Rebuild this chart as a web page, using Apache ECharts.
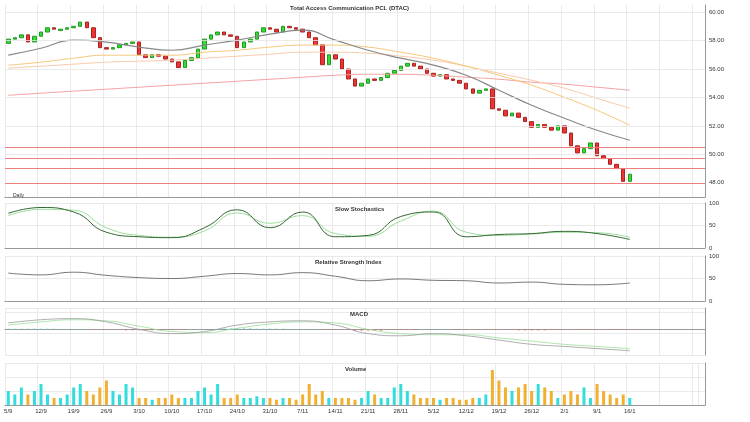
<!DOCTYPE html><html><head><meta charset="utf-8"><script src="https://cdn.jsdelivr.net/npm/echarts@6/dist/echarts.min.js"></script>
<style>body{margin:0;background:#fff}#c{width:750px;height:422px}</style></head><body><div id="c"></div><script>
const closes=[58.1,58.2,58.4,57.9,58.3,58.6,58.9,58.8,58.8,58.9,59.0,59.3,58.9,58.2,57.5,57.4,57.5,57.7,57.8,57.9,57.0,56.8,57.0,56.9,56.7,56.5,56.1,56.6,56.8,57.4,58.1,58.4,58.6,58.4,58.3,57.5,57.9,58.1,58.6,58.9,58.8,58.6,59.0,58.9,58.8,58.6,58.2,57.7,56.3,57.0,56.7,56.0,55.3,54.8,55.0,55.3,55.2,55.4,55.7,55.9,56.2,56.4,56.2,56.0,55.7,55.5,55.6,55.3,55.2,55.0,54.6,54.3,54.5,54.6,53.2,53.1,52.7,52.9,52.6,52.3,51.9,52.1,51.9,51.7,52.0,51.5,50.6,50.1,50.4,50.8,49.9,49.7,49.3,49.0,48.1,48.6];
const opens=[57.8,58.1,58.2,58.4,57.9,58.3,58.6,58.9,58.7,58.8,58.9,59.0,59.3,58.9,58.2,57.5,57.4,57.5,57.7,57.8,57.9,57.0,56.8,57.0,56.9,56.7,56.5,56.1,56.6,56.8,57.4,58.1,58.4,58.6,58.4,58.3,57.5,57.9,58.1,58.6,58.9,58.8,58.6,59.0,58.9,58.8,58.6,58.2,57.7,56.3,57.0,56.7,56.0,55.3,54.8,55.0,55.3,55.2,55.4,55.7,55.9,56.2,56.4,56.2,56.0,55.7,55.5,55.6,55.3,55.2,55.0,54.6,54.3,54.5,54.6,53.2,53.1,52.7,52.9,52.6,52.3,51.9,52.1,51.9,51.7,52.0,51.5,50.6,50.1,50.4,50.8,49.9,49.7,49.3,49.0,48.1];
const volumes=[4,3,5,3,4,6,3,2,2,3,5,6,4,3,5,7,4,3,6,5,2,2,1.5,2,2,3,2,2,2,4,5,3,6,2,2,3,2,2,2.5,2,2,1.5,2,2,1.5,3,6,3,4,2,2,2,2,1.5,2,4,3,2,2,5,6,4,3,2,2,2,1.5,2,2,1.5,1.5,2,2,3,10,7,5,4,5,6,4,6,5,4,2,3,4,3,5,2,6,4,3,2,3,2];
const maIdx=[0,5,10,15,20,25,30,35,40,45,50,55,60,65,70,75,80,85,90,95];
const maGray=[56.97,57.46,58.03,57.89,57.54,57.32,57.68,58.03,58.45,58.73,58.03,57.32,56.76,56.27,55.56,54.51,53.45,52.54,51.69,50.99];
const maOrange1=[56.27,56.48,56.76,56.97,56.97,56.97,57.18,57.32,57.54,57.68,57.68,57.54,57.18,56.76,56.20,55.56,54.86,54.01,53.10,52.04];
const maOrange2=[56.06,56.20,56.34,56.48,56.55,56.62,56.76,56.90,57.04,57.18,57.18,57.11,56.90,56.62,56.20,55.70,55.21,54.65,53.94,53.24];
const maRed=[54.15,54.30,54.44,54.58,54.72,54.86,55.0,55.14,55.28,55.42,55.56,55.63,55.63,55.56,55.42,55.28,55.07,54.93,54.72,54.51];
const levels=[50.5,49.7,49.0,48.0];
const priceTicks=[48,50,52,54,56,58,60];
const stochK=[77,90,80,35,25,23,45,85,45,80,25,28,70,80,25,30,32,37,32,19];
const stochD=[72,86,84,45,28,24,38,78,55,72,32,26,60,82,35,28,31,35,34,24];
const rsi=[62,58,64,57,52,50,55,61,58,63,55,45,49,46,45,40,42,37,36,40];
const macd=[0.3,0.45,0.5,0.35,0.0,-0.2,-0.1,0.2,0.35,0.4,0.2,-0.2,-0.3,-0.2,-0.3,-0.5,-0.7,-0.8,-0.9,-1.0];
const signal=[0.2,0.35,0.45,0.4,0.15,-0.1,-0.15,0.05,0.25,0.35,0.3,0.0,-0.2,-0.25,-0.25,-0.4,-0.55,-0.7,-0.8,-0.9];
const hist=[0.1,0.1,0.05,-0.05,-0.15,-0.1,0.05,0.15,0.1,0.05,-0.1,-0.2,-0.1,0.05,-0.05,-0.1,-0.15,-0.1,-0.1,-0.1];
const dateLabels=['5/9','12/9','19/9','26/9','3/10','10/10','17/10','24/10','31/10','7/11','14/11','21/11','28/11','5/12','12/12','19/12','26/12','2/1','9/1','16/1'];
const N=closes.length;
const cats=[];for(let i=0;i<N+11;i++)cats.push(i<N&&i%5===0?dateLabels[i/5]:'');
const sparse=(arr)=>{const o=new Array(N).fill(null);maIdx.forEach((k,j)=>o[k]=arr[j]);return o;};
const grids=[{left:5,right:45,top:5,height:192},{left:5,right:45,top:203,height:45},{left:5,right:45,top:256,height:45},{left:5,right:45,top:308,height:47},{left:5,right:45,top:363,height:42}];
const gl={lineStyle:{color:'#e4e4e4',width:0.8}};
const xAxes=grids.map((g,i)=>({type:'category',gridIndex:i,data:cats,boundaryGap:true,
 axisLine:{show:true,lineStyle:{color:'#999'}},axisTick:{show:false},
 splitLine:{show:true,interval:4,...gl},
 axisLabel:i===4?{show:true,interval:0,fontSize:6,color:'#333',margin:3}:{show:false}}));
const ya=(i,o)=>Object.assign({type:'value',gridIndex:i,position:'right',axisLine:{show:true,lineStyle:{color:'#999'}},axisTick:{show:false},axisLabel:{fontSize:6,color:'#333',margin:4},splitLine:{show:true,...gl}},o);
const yAxes=[ya(0,{min:47,max:60.5,interval:0.5,axisLabel:{fontSize:6,color:'#333',margin:4,formatter:v=>(priceTicks.includes(v)?v.toFixed(2):'')},splitLine:{show:false}}),
 ya(1,{min:0,max:100,interval:50}),ya(2,{min:0,max:100,interval:50}),ya(3,{min:-1.2,max:1,interval:1,axisLabel:{show:false}}),ya(4,{min:0,max:12,interval:4,axisLabel:{show:false}})];
const lineS=(name,x,data,color,w)=>({name,type:'line',xAxisIndex:x,yAxisIndex:x,data,showSymbol:false,connectNulls:true,smooth:true,lineStyle:{color,width:w||1},silent:true});
const chart=echarts.init(document.getElementById('c'));
chart.setOption({animation:false,
 title:[{text:'Total Access Communication PCL (DTAC)',left:285,top:0,textStyle:{fontSize:6,color:'#333',fontWeight:'bold'}},
  {text:'Slow Stochastics',left:330,top:201,textStyle:{fontSize:6,fontWeight:'bold',color:'#333'}},
  {text:'Relative Strength Index',left:310,top:254,textStyle:{fontSize:6,fontWeight:'bold',color:'#333'}},
  {text:'MACD',left:345,top:306,textStyle:{fontSize:6,fontWeight:'bold',color:'#333'}},
  {text:'Volume',left:340,top:361,textStyle:{fontSize:6,fontWeight:'bold',color:'#333'}},
  {text:'Daily',left:8,top:188,textStyle:{fontSize:5,color:'#333',fontWeight:'normal'}}],
 grid:grids,xAxis:xAxes,yAxis:yAxes,
 series:[
  {type:'line',xAxisIndex:0,yAxisIndex:0,data:[],markLine:{symbol:'none',silent:true,label:{show:false},lineStyle:{color:'#e4e4e4',type:'solid',width:0.8},data:priceTicks.map(v=>({yAxis:v}))}},
  lineS('MA200',0,sparse(maRed),'#f4a0a0',1),
  lineS('MA100',0,sparse(maOrange2),'#f9c9a9',1),
  lineS('MA50',0,sparse(maOrange1),'#f5c77a',1),
  lineS('MA20',0,sparse(maGray),'#888',1.2),
  {type:'candlestick',xAxisIndex:0,yAxisIndex:0,barWidth:4,
   data:closes.map((c,i)=>[opens[i],c,Math.min(opens[i],c),Math.max(opens[i],c)]),
   itemStyle:{color:'#33dd33',color0:'#ee3333',borderColor:'#229922',borderColor0:'#aa2222'},
   markLine:{symbol:'none',silent:true,label:{show:false},lineStyle:{color:'#f08080',type:'solid',width:1},data:levels.map(v=>({yAxis:v}))}},
  lineS('%D',1,sparse(stochD),'#99dd99',1),
  lineS('%K',1,sparse(stochK),'#336633',1),
  lineS('RSI',2,sparse(rsi),'#555',0.8),
  {type:'bar',xAxisIndex:3,yAxisIndex:3,barWidth:2,data:closes.map((_,i)=>{const v=hist[Math.min(19,Math.round(i/5))];return {value:v*0.3,itemStyle:{color:v>=0?'#33dddd':'#ee6666'}};})},
  lineS('Signal',3,sparse(signal),'#99dd99',0.8),
  lineS('MACD',3,sparse(macd),'#999',0.8),
  {type:'bar',xAxisIndex:4,yAxisIndex:4,barWidth:3,data:volumes.map((v,i)=>({value:v,itemStyle:{color:closes[i]>=opens[i]?'#33dddd':'#f0b030'}}))}
 ]});
</script></body></html>
